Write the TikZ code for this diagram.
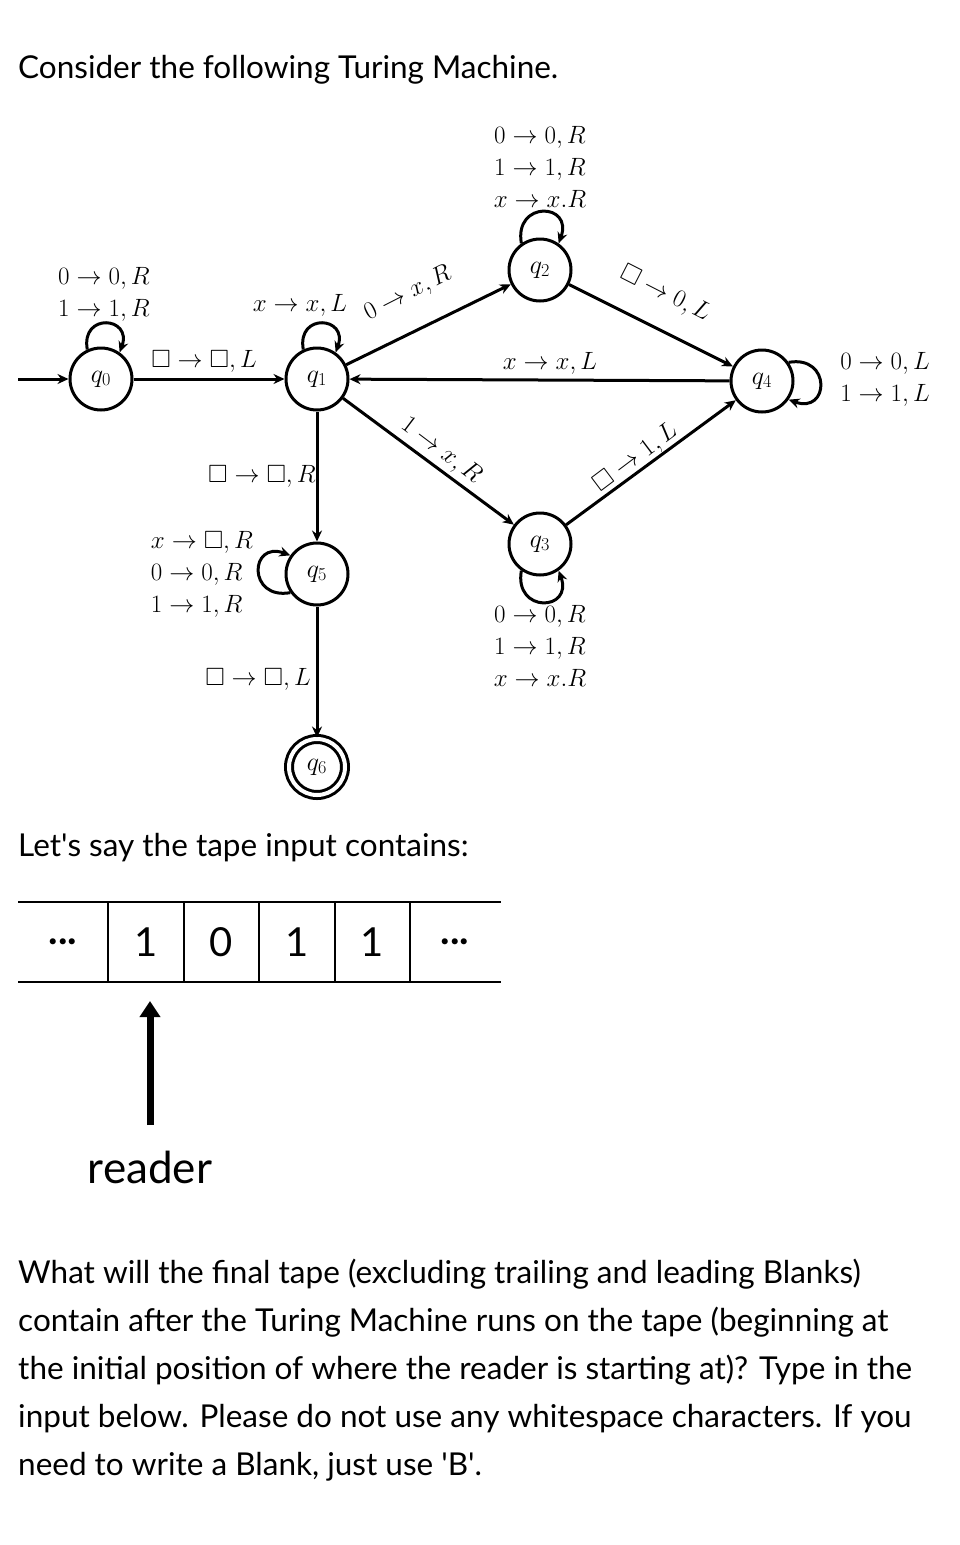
\RequirePackage{fix-cm}
\documentclass[tikz,border=0pt]{standalone}
\usepackage{amssymb}
\usepackage{fontspec}
\setmainfont{Lato}
\usetikzlibrary{arrows.meta}
\begin{document}
\begin{tikzpicture}[x=1pt,y=-1pt,
 st/.style={circle,draw,line width=3pt,minimum size=62pt,inner sep=0pt,font=\fontsize{26}{26}\selectfont},
 ed/.style={line width=3pt,-{Stealth[length=11pt,width=10pt]}},
 lp/.style={line width=3pt,-{Stealth[length=11pt,width=10pt]},looseness=3},
 lb/.style={font=\fontsize{25}{32}\selectfont,align=center,inner sep=1pt},
 txt/.style={font=\fontsize{31.5}{48}\selectfont,anchor=west,align=left,inner sep=0pt}]
\useasboundingbox (0,0) rectangle (960,1545);
\node[txt] (t1) at (18,70) {Consider the following Turing Machine.};
\node[st] (q0) at (101,379) {$q_0$};
\node[st] (q1) at (317,379) {$q_1$};
\node[st] (q2) at (540,270) {$q_2$};
\node[st] (q3) at (540,544) {$q_3$};
\node[st] (q4) at (762,381) {$q_4$};
\node[st] (q5) at (317,574) {$q_5$};
\node[st,double,double distance=4pt,minimum size=56pt] (q6) at (317,767) {$q_6$};
\coordinate (s) at (18,379);
\draw[ed] (s) -- (q0);
\draw[ed] (q0) -- (q1);
\draw[ed] (q1) -- (q2);
\draw[ed] (q1) -- (q3);
\draw[ed] (q2) -- (q4);
\draw[ed] (q3) -- (q4);
\draw[ed] (q4) -- (q1);
\draw[ed] (q1) -- (q5);
\draw[ed] (q5) -- (q6);
\draw[lp] (q0.115) to[out=100,in=70] (q0.55);
\draw[lp] (q1.115) to[out=100,in=70] (q1.55);
\draw[lp] (q2.125) to[out=100,in=70] (q2.55);
\draw[lp] (q3.235) to[out=260,in=290] (q3.305);
\draw[lp] (q4.35) to[out=10,in=-20] (q4.-35);
\draw[lp] (q5.215) to[out=190,in=160] (q5.145);
\node[lb] (l0) at (104,294) {$0\rightarrow 0,R$\\$1\rightarrow 1,R$};
\node[lb] (l1) at (300,305) {$x\rightarrow x,L$};
\node[lb] (l2) at (540,167) {$0\rightarrow 0,R$\\$1\rightarrow 1,R$\\$x\rightarrow x.R$};
\node[lb] (l3) at (540,646) {$0\rightarrow 0,R$\\$1\rightarrow 1,R$\\$x\rightarrow x.R$};
\node[lb] (l4) at (885,379) {$0\rightarrow 0,L$\\$1\rightarrow 1,L$};
\node[lb,align=left] (l5) at (202,574) {$x\rightarrow \square,R$\\$0\rightarrow 0,R$\\$1\rightarrow 1,R$};
\node[lb] (l01) at (204,361) {$\square\rightarrow\square,L$};
\node[lb] (l15) at (262,476) {$\square\rightarrow\square,R$};
\node[lb] (l56) at (258,679) {$\square\rightarrow\square,L$};
\node[lb] (l41) at (550,363) {$x\rightarrow x,L$};
\node[lb,rotate=27] (l12) at (408,294) {$0\rightarrow x,R$};
\node[lb,rotate=-37] (l13) at (441,451) {$1\rightarrow x,R$};
\node[lb,rotate=-27] (l24) at (665,294) {$\square\rightarrow 0,L$};
\node[lb,rotate=37] (l34) at (636,458) {$\square\rightarrow 1,L$};
\node[txt] (t2) at (18,848) {Let\textquotesingle s say the tape input contains:};
\draw[line width=2pt] (18,902) -- (501,902) (18,982) -- (501,982);
\foreach \x in {108,184,259,335,410} \draw[line width=2pt] (\x,902) -- (\x,982);
\foreach \x/\c in {63/{\textbf{...}},146/1,221/0,297/1,372/1,455/{\textbf{...}}}
  \node[font=\fontsize{40}{40}\selectfont] at (\x,942) {\c};
\coordinate (a1) at (150,1125); \coordinate (a2) at (150,1001);
\draw[line width=7pt,-{Triangle[length=16pt,width=20pt]}] (a1) -- (a2);
\node[font=\fontsize{44}{44}\selectfont] (rd) at (150,1167) {reader};
\node[txt] (t3) at (18,1370) {What will the final tape (excluding trailing and leading Blanks)\\contain after the Turing Machine runs on the tape (beginning at\\the initial position of where the reader is starting at)? Type in the\\input below. Please do not use any whitespace characters. If you\\need to write a Blank, just use \textquotesingle B\textquotesingle .};
\end{tikzpicture}
\end{document}
